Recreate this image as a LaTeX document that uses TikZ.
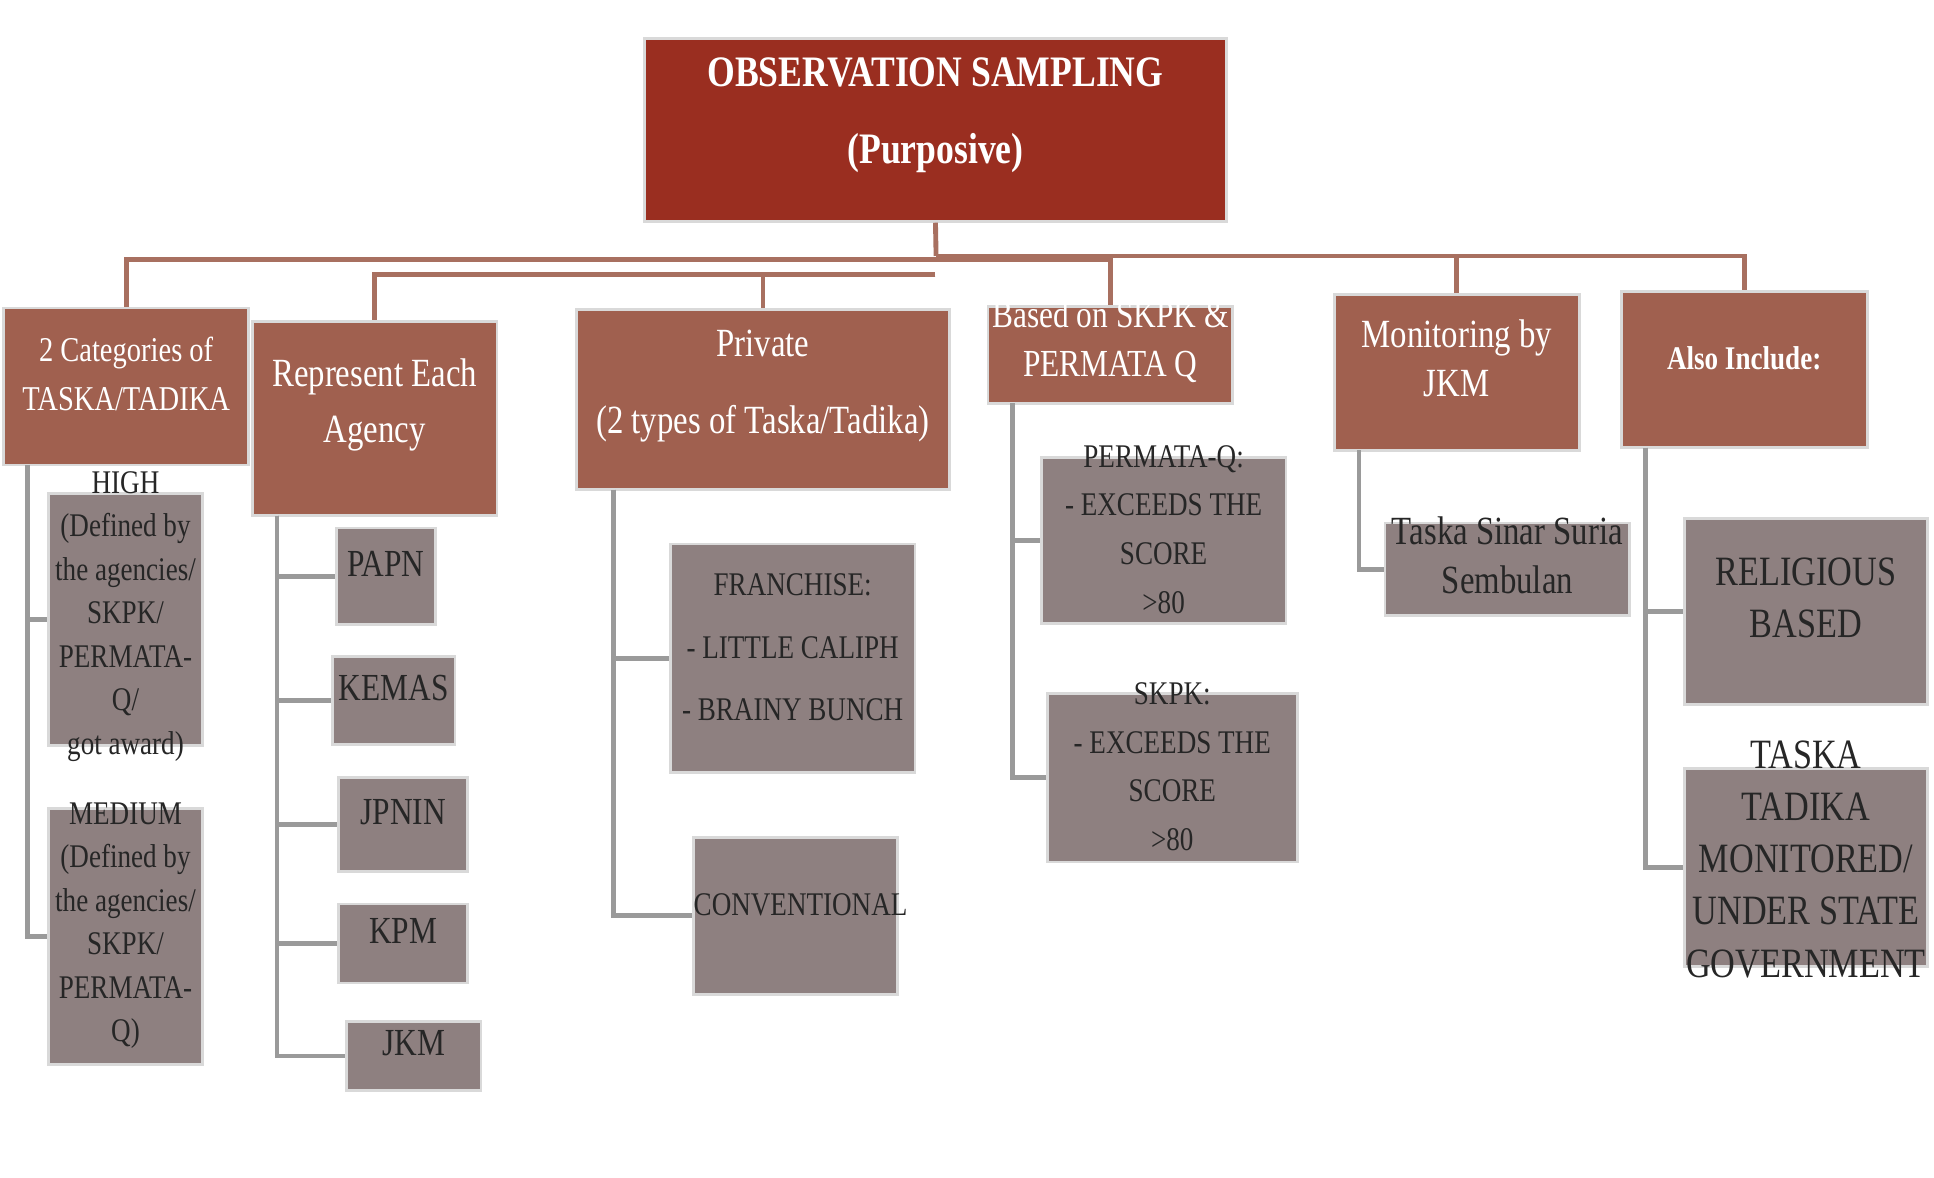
\documentclass[tikz,border=0pt]{standalone}
\usepackage{fontspec}
\setmainfont[FakeStretch=0.82]{Liberation Serif}
\usetikzlibrary{fit}
\definecolor{topred}{HTML}{9A2E20}
\definecolor{brownb}{HTML}{A0604F}
\definecolor{grayb}{HTML}{8E8080}
\definecolor{linec}{HTML}{A87060}
\definecolor{linegray}{HTML}{9A9A9A}
\tikzset{
  base/.style={inner sep=0pt, align=center, draw=white!85!black, line width=0.8pt},
  topbox/.style={base, fill=topred, text=white, font=\bfseries\fontsize{12.5}{22}\selectfont},
  lvl/.style={base, fill=brownb, text=white, font=\fontsize{10}{14}\selectfont},
  leaf/.style={base, fill=grayb, text=black!85, font=\fontsize{9}{12.5}\selectfont},
  bigleaf/.style={base, fill=grayb, text=black!85, font=\fontsize{12}{15}\selectfont},
  conn/.style={linec, line width=1.4pt},
  sub/.style={linegray, line width=1.4pt}
}
\begin{document}
\begin{tikzpicture}[x=0.0125cm, y=-0.0125cm]
\useasboundingbox (0,0) rectangle (1564,952.6);
\node[topbox, fit={(521,31)(992,179)}] (top) {OBSERVATION SAMPLING\\(Purposive)};
\node[lvl, fit={(3,249)(201,376)}] (A) {2 Categories of\\TASKA/TADIKA};
\node[lvl, fit={(204,260)(402,417)}, font=\fontsize{11.5}{16}\selectfont] (B) {Represent Each\\Agency};
\node[lvl, fit={(466,250)(768,396)}, font=\fontsize{11.5}{22}\selectfont] (C) {Private\\(2 types of Taska/Tadika)};
\node[lvl, fit={(799,248)(997,326)}, font=\fontsize{11}{14}\selectfont] (D) {Based on SKPK \&\\PERMATA Q};
\node[lvl, fit={(1079,238)(1277,364)}, font=\fontsize{11.5}{14}\selectfont] (E) {Monitoring by JKM};
\node[lvl, fit={(1311,236)(1510,362)}, font=\bfseries\fontsize{9.5}{14}\selectfont] (F) {Also Include:};

\coordinate (j1) at (757,207);
\draw[conn] (top.south) -- (j1);
\draw[conn] (j1) -| (E.north);
\draw[conn] (j1) -| (F.north);
\draw[conn] (top.south) ++(0,42) coordinate (j2);
\draw[conn] (j2) -| (B.north);
\draw[conn] (j2) -| (C.north);
\draw[conn] (top.south) ++(0,30) coordinate (j3);
\draw[conn] (j3) -| (A.north);
\draw[conn] (j3) -| (D.north);

\node[leaf, fit={(39,405)(164,597)}, font=\fontsize{9.5}{12.5}\selectfont] (high) {HIGH\\(Defined by\\the agencies/\\SKPK/\\PERMATA-Q/\\got award)};
\node[leaf, fit={(39,654)(164,861)}, font=\fontsize{9.5}{12.5}\selectfont] (med) {MEDIUM\\(Defined by\\the agencies/\\SKPK/\\PERMATA-Q)};
\coordinate (sA) at (22,376);
\draw[sub] (sA) |- (high.west);
\draw[sub] (sA) |- (med.west);

\node[leaf, fit={(272,427)(352,505)}, font=\fontsize{11}{14}\selectfont] (papn) {PAPN};
\node[leaf, fit={(269,531)(368,602)}, font=\fontsize{11}{14}\selectfont] (kemas) {KEMAS};
\node[leaf, fit={(274,629)(378,705)}, font=\fontsize{11}{14}\selectfont] (jpnin) {JPNIN};
\node[leaf, fit={(274,731)(378,795)}, font=\fontsize{11}{14}\selectfont] (kpm) {KPM};
\node[leaf, fit={(280,826)(389,882)}, font=\fontsize{11}{14}\selectfont] (jkm) {JKM};
\coordinate (sB) at (224,417);
\foreach \n in {papn,kemas,jpnin,kpm,jkm} \draw[sub] (sB) |- (\n.west);

\node[leaf, fit={(542,440)(740,625)}, font=\fontsize{9.5}{18}\selectfont] (fr) {FRANCHISE:\\- LITTLE CALIPH\\- BRAINY BUNCH};
\node[leaf, fit={(561,677)(726,804)}, font=\fontsize{9.5}{12}\selectfont] (conv) {CONVENTIONAL};
\coordinate (sC) at (496,396);
\draw[sub] (sC) |- (fr.west);
\draw[sub] (sC) |- (conv.west);

\node[leaf, fit={(842,370)(1040,504)}, font=\fontsize{9.5}{14}\selectfont] (perm) {PERMATA-Q:\\- EXCEEDS THE SCORE\\>80};
\node[leaf, fit={(847,561)(1049,697)}, font=\fontsize{9.5}{14}\selectfont] (skpk) {SKPK:\\- EXCEEDS THE SCORE\\>80};
\coordinate (sD) at (819,326);
\draw[sub] (sD) |- (perm.west);
\draw[sub] (sD) |- (skpk.west);

\node[leaf, fit={(1120,423)(1318,498)}, font=\fontsize{11.5}{14}\selectfont] (sinar) {Taska Sinar Suria\\Sembulan};
\coordinate (sE) at (1099,364);
\draw[sub] (sE) |- (sinar.west);

\node[bigleaf, fit={(1362,419)(1559,570)}] (rel) {RELIGIOUS\\BASED};
\node[bigleaf, fit={(1362,626)(1559,777)}] (tt) {TASKA TADIKA\\MONITORED/\\UNDER STATE\\GOVERNMENT};
\coordinate (sF) at (1331,362);
\draw[sub] (sF) |- (rel.west);
\draw[sub] (sF) |- (tt.west);
\end{tikzpicture}
\end{document}
